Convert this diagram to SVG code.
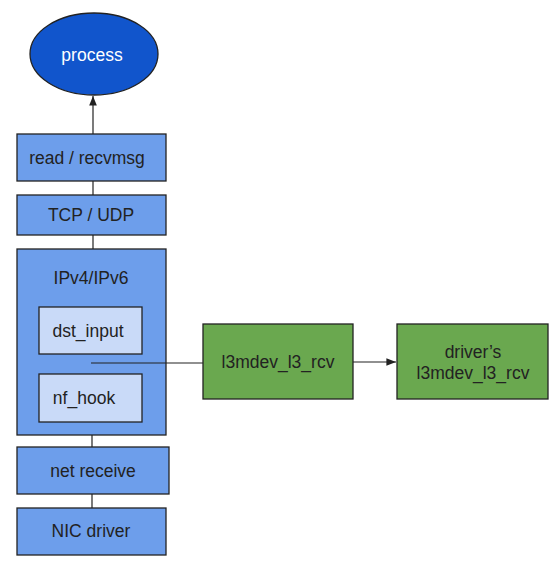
<svg xmlns="http://www.w3.org/2000/svg" width="555" height="569" viewBox="0 0 555 569">
<style>
.b{fill:#6d9eeb;stroke:#222;stroke-width:1.3}
.i{fill:#c9daf8;stroke:#222;stroke-width:1.3}
.g{fill:#6aa84f;stroke:#222;stroke-width:1.3}
text{font-family:"Liberation Sans",Arial,sans-serif;font-size:17.5px;fill:#222;text-anchor:middle;dominant-baseline:central}
.c{stroke:#222;stroke-width:1.2;fill:none}
</style>
<defs><marker id="a" viewBox="0 0 10 10" refX="10" refY="5" markerWidth="8" markerHeight="8" orient="auto"><path d="M0,1 L10,5 L0,9 z" fill="#222"/></marker></defs>
<g id="connectors">
<line class="c" x1="93" y1="134" x2="93" y2="96" marker-end="url(#a)"/>
<line class="c" x1="93" y1="181" x2="93" y2="195"/>
<line class="c" x1="93" y1="235" x2="93" y2="249"/>
<line class="c" x1="92" y1="435" x2="92" y2="447"/>
<line class="c" x1="92" y1="494" x2="92" y2="508"/>
<line class="c" x1="353" y1="362" x2="396" y2="362" marker-end="url(#a)"/>
</g>
<g id="process"><ellipse cx="94" cy="54" rx="64" ry="41" fill="#1155cc" stroke="#222" stroke-width="1.3"/><text x="92" y="55" style="fill:#fff">process</text></g>
<g id="read"><rect class="b" x="17" y="134" width="149" height="47"/><text x="87" y="158">read / recvmsg</text></g>
<g id="tcp"><rect class="b" x="17" y="195" width="149" height="40"/><text x="91" y="215">TCP / UDP</text></g>
<g id="ip"><rect class="b" x="17" y="249" width="149" height="186"/><text x="91" y="278">IPv4/IPv6</text></g>
<g id="dst"><rect class="i" x="39" y="307" width="103" height="47"/><text x="88" y="331">dst_input</text></g>
<g id="nf"><rect class="i" x="39" y="374" width="103" height="48"/><text x="84" y="398">nf_hook</text></g>
<g id="iplink"><line class="c" x1="91" y1="363" x2="203" y2="363"/></g>
<g id="net"><rect class="b" x="17" y="447" width="152" height="47"/><text x="93" y="471">net receive</text></g>
<g id="nic"><rect class="b" x="17" y="508" width="149" height="47"/><text x="91" y="531">NIC driver</text></g>
<g id="l3"><rect class="g" x="203" y="324" width="150" height="75"/><text x="278" y="362">l3mdev_l3_rcv</text></g>
<g id="drv"><rect class="g" x="397" y="324" width="151" height="75"/><text x="473" y="352">driver’s</text><text x="473" y="373">l3mdev_l3_rcv</text></g>
</svg>
